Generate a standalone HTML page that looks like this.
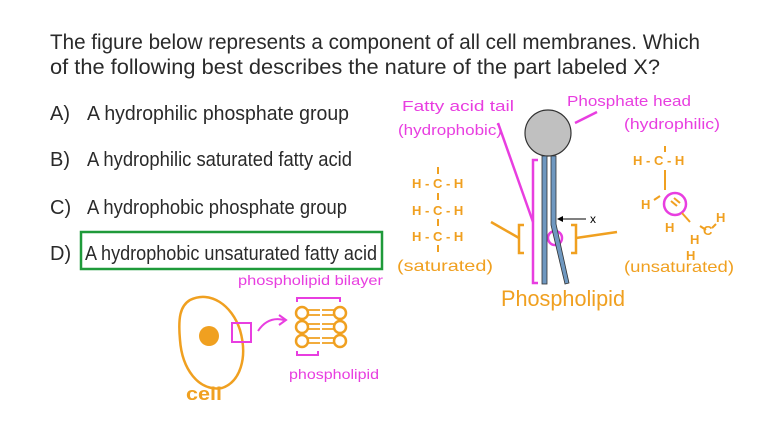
<!DOCTYPE html>
<html><head><meta charset="utf-8"><style>
html,body{margin:0;padding:0;background:#fff;}
svg{display:block;}
text{font-family:"Liberation Sans",sans-serif;}
</style></head><body>
<svg width="760" height="427" viewBox="0 0 760 427" xmlns="http://www.w3.org/2000/svg">
<g fill="#2a2a2a" font-size="21">
<text x="50" y="49" textLength="650" lengthAdjust="spacingAndGlyphs">The figure below represents a component of all cell membranes. Which</text>
<text x="50" y="74" textLength="610" lengthAdjust="spacingAndGlyphs">of the following best describes the nature of the part labeled X?</text>
</g>
<g fill="#2a2a2a" font-size="20">
<text x="50" y="120">A)</text><text x="87" y="120" textLength="262" lengthAdjust="spacingAndGlyphs">A hydrophilic phosphate group</text>
<text x="50" y="166">B)</text><text x="87" y="166" textLength="265" lengthAdjust="spacingAndGlyphs">A hydrophilic saturated fatty acid</text>
<text x="50" y="214">C)</text><text x="87" y="214" textLength="260" lengthAdjust="spacingAndGlyphs">A hydrophobic phosphate group</text>
<text x="50" y="260">D)</text><text x="85" y="260" textLength="292" lengthAdjust="spacingAndGlyphs">A hydrophobic unsaturated fatty acid</text>
</g>
<rect x="81" y="232" width="301" height="37" fill="none" stroke="#1f9a3a" stroke-width="2.5"/>

<g fill="#e83ee0" font-size="15">
<text x="402" y="111" textLength="112" lengthAdjust="spacingAndGlyphs">Fatty acid tail</text>
<text x="398" y="135" textLength="104" lengthAdjust="spacingAndGlyphs">(hydrophobic)</text>
<text x="567" y="106" textLength="124" lengthAdjust="spacingAndGlyphs">Phosphate head</text>
<text x="624" y="129" textLength="96" lengthAdjust="spacingAndGlyphs">(hydrophilic)</text>
</g>
<g stroke="#e83ee0" stroke-width="2.5" fill="none">
<line x1="498" y1="123" x2="533" y2="222"/>
<line x1="575" y1="123" x2="597" y2="112"/>
<path d="M538 160 L533 160 L533 283 L538 283"/>
<circle cx="555" cy="238" r="7"/>
<circle cx="675" cy="204" r="11"/>
</g>
<circle cx="548" cy="133" r="23" fill="#c0c0c0" stroke="#333" stroke-width="1.2"/>
<g fill="#6f98c0" stroke="#333" stroke-width="0.8">
<rect x="542" y="156" width="5" height="128"/>
<path d="M551 156 L556 156 L556 224 L569 283 L565 284 L551 225 Z"/>
</g>
<line x1="586" y1="219" x2="560" y2="219" stroke="#000" stroke-width="1"/>
<path d="M557 219 L563 216 L563 222 Z" fill="#000"/>
<text x="590" y="223" font-family="Liberation Serif,serif" font-size="12" fill="#000">x</text>

<g stroke="#f0a020" stroke-width="2.5" fill="none">
<path d="M524 225 L519 225 L519 253 L524 253"/>
<line x1="491" y1="222" x2="519" y2="238"/>
<path d="M571 225 L576 225 L576 253 L571 253"/>
<line x1="576" y1="238" x2="617" y2="232"/>
</g>
<g fill="#f0a020" font-size="13" font-weight="bold">
<text x="412" y="188">H - C - H</text>
<text x="412" y="215">H - C - H</text>
<text x="412" y="241">H - C - H</text>
<text x="633" y="165">H - C - H</text>
<text x="641" y="209">H</text>
<text x="665" y="232">H</text>
<text x="716" y="222">H</text>
<text x="690" y="244">H</text>
<text x="703" y="235">C</text>
<text x="686" y="260">H</text>
</g>
<g stroke="#f0a020" stroke-width="2">
<line x1="438" y1="167" x2="438" y2="174"/><line x1="438" y1="193" x2="438" y2="200"/>
<line x1="438" y1="219" x2="438" y2="226"/><line x1="438" y1="245" x2="438" y2="252"/>
<line x1="665" y1="146" x2="665" y2="152"/><line x1="665" y1="170" x2="665" y2="190"/>
<line x1="654" y1="200" x2="660" y2="196"/><line x1="682" y1="213" x2="690" y2="222"/>
<line x1="700" y1="226" x2="706" y2="230"/><line x1="712" y1="228" x2="716" y2="224"/>
<line x1="671" y1="201" x2="677" y2="206"/><line x1="674" y1="198" x2="680" y2="203"/>
</g>
<g fill="#f0a020">
<text x="397" y="271" font-size="16" textLength="96" lengthAdjust="spacingAndGlyphs">(saturated)</text>
<text x="624" y="272" font-size="16" textLength="110" lengthAdjust="spacingAndGlyphs">(unsaturated)</text>
<text x="501" y="306" font-size="22" textLength="124" lengthAdjust="spacingAndGlyphs">Phospholipid</text>
</g>

<path d="M190 300 C210 290 232 305 240 330 C248 358 240 382 222 388 C198 392 182 368 180 340 C178 318 180 306 190 300 Z" fill="none" stroke="#f0a020" stroke-width="2.5"/>
<circle cx="209" cy="336" r="10" fill="#f0a020"/>
<rect x="232" y="323" width="19" height="19" fill="none" stroke="#e83ee0" stroke-width="2"/>
<path d="M258 331 Q268 316 284 320" fill="none" stroke="#e83ee0" stroke-width="2"/>
<path d="M279 315 L286 320 L279 325" fill="none" stroke="#e83ee0" stroke-width="2"/>
<g stroke="#f0a020" stroke-width="2.5" fill="none">
<circle cx="302" cy="313" r="6"/><circle cx="302" cy="327" r="6"/><circle cx="302" cy="341" r="6"/>
<circle cx="340" cy="313" r="6"/><circle cx="340" cy="327" r="6"/><circle cx="340" cy="341" r="6"/>
<path d="M308 310 h12 M308 315 h12 M308 324 h12 M308 329 h12 M308 338 h12 M308 343 h12 M322 310 h12 M322 315 h12 M322 324 h12 M322 329 h12 M322 338 h12 M322 343 h12" stroke-width="1.8"/>
</g>
<g stroke="#e83ee0" stroke-width="2" fill="none">
<path d="M297 302 L297 298 L340 298 L340 302"/>
<path d="M297 351 L297 355 L318 355 L318 351"/>
</g>
<g fill="#e83ee0" font-size="14">
<text x="238" y="285" textLength="145" lengthAdjust="spacingAndGlyphs">phospholipid bilayer</text>
<text x="289" y="379" textLength="90" lengthAdjust="spacingAndGlyphs">phospholipid</text>
</g>
<text x="186" y="400" fill="#f0a020" font-size="18" font-weight="bold" textLength="36" lengthAdjust="spacingAndGlyphs">cell</text>
</svg>
</body></html>
